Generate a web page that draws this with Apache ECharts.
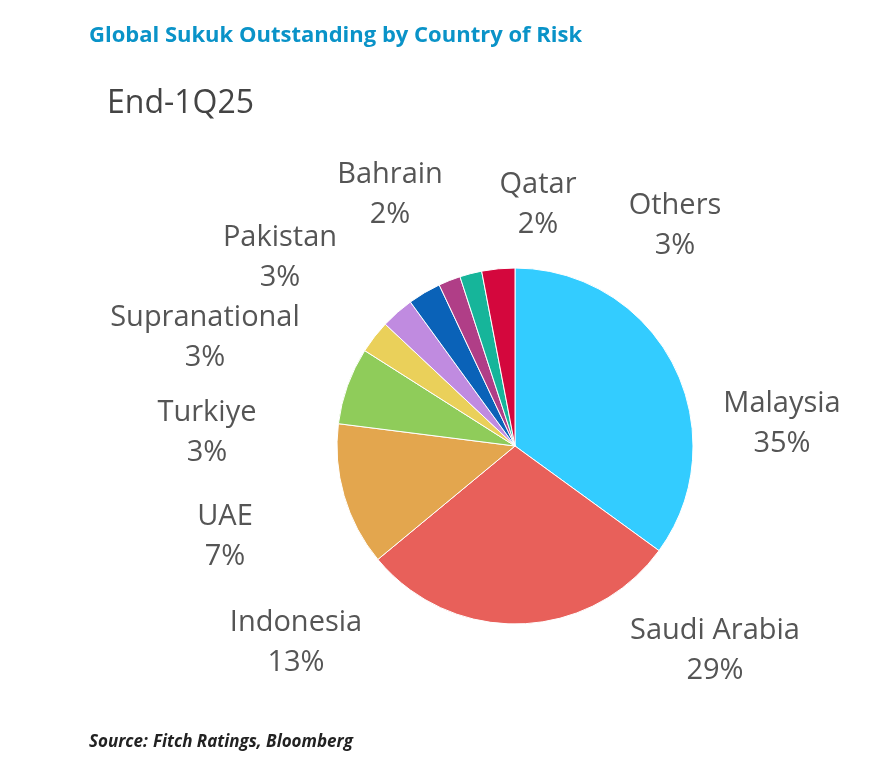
<!DOCTYPE html><html><head><meta charset="utf-8"><script src="https://cdn.jsdelivr.net/npm/echarts@6/dist/echarts.min.js"></script>
<style>body{margin:0}#c{width:889px;height:767px}</style></head><body><div id="c"></div><script>
const categories=['Malaysia','Saudi Arabia','Indonesia','UAE','Turkiye','Supranational','Pakistan','Bahrain','Qatar','Others'];
const values=[35,29,13,7,3,3,3,2,2,3];
const colors=['#33ccff','#e8605a','#e3a64e','#8fcc5a','#ead05a','#c08be0','#0a62b8','#b03e87','#16b59a','#d4073d'];
const labelPos=[[782,424],[715,651],[296,643],[225,537],[207,433],[205,338],[280,258],[390,195],[538,205],[675,226]];
const chart=echarts.init(document.getElementById('c'));
chart.setOption({
 animation:false,
 title:[{text:'Global Sukuk Outstanding by Country of Risk',left:84,top:20,textStyle:{color:'#0a93c8',fontSize:22,fontWeight:'bold',fontFamily:'Open Sans'}},
  {text:'End-1Q25',left:102,top:83,textStyle:{color:'#444',fontSize:32,fontWeight:'normal',fontFamily:'Open Sans'}},
  {text:'{b|Source:} {i|Fitch Ratings, Bloomberg}',left:84,top:728,textStyle:{rich:{b:{fontWeight:'bold',fontStyle:'italic',fontSize:17,color:'#222',fontFamily:'Open Sans'},i:{fontStyle:'italic',fontSize:17,color:'#222',fontFamily:'Open Sans'}}}}],
 series:[{type:'pie',center:[515,446],radius:178,startAngle:90,clockwise:true,
  data:categories.map((n,i)=>({name:n,value:values[i],itemStyle:{color:colors[i]}})),
  itemStyle:{borderColor:'#fff',borderWidth:1},
  label:{show:true,formatter:'{b}\n{c}%',fontSize:29,lineHeight:40,color:'#555',fontFamily:'Open Sans',align:'center'},
  labelLine:{show:false},
  labelLayout:p=>({x:labelPos[p.dataIndex][0],y:labelPos[p.dataIndex][1],align:'center',verticalAlign:'middle'})
 }]
});
</script></body></html>
